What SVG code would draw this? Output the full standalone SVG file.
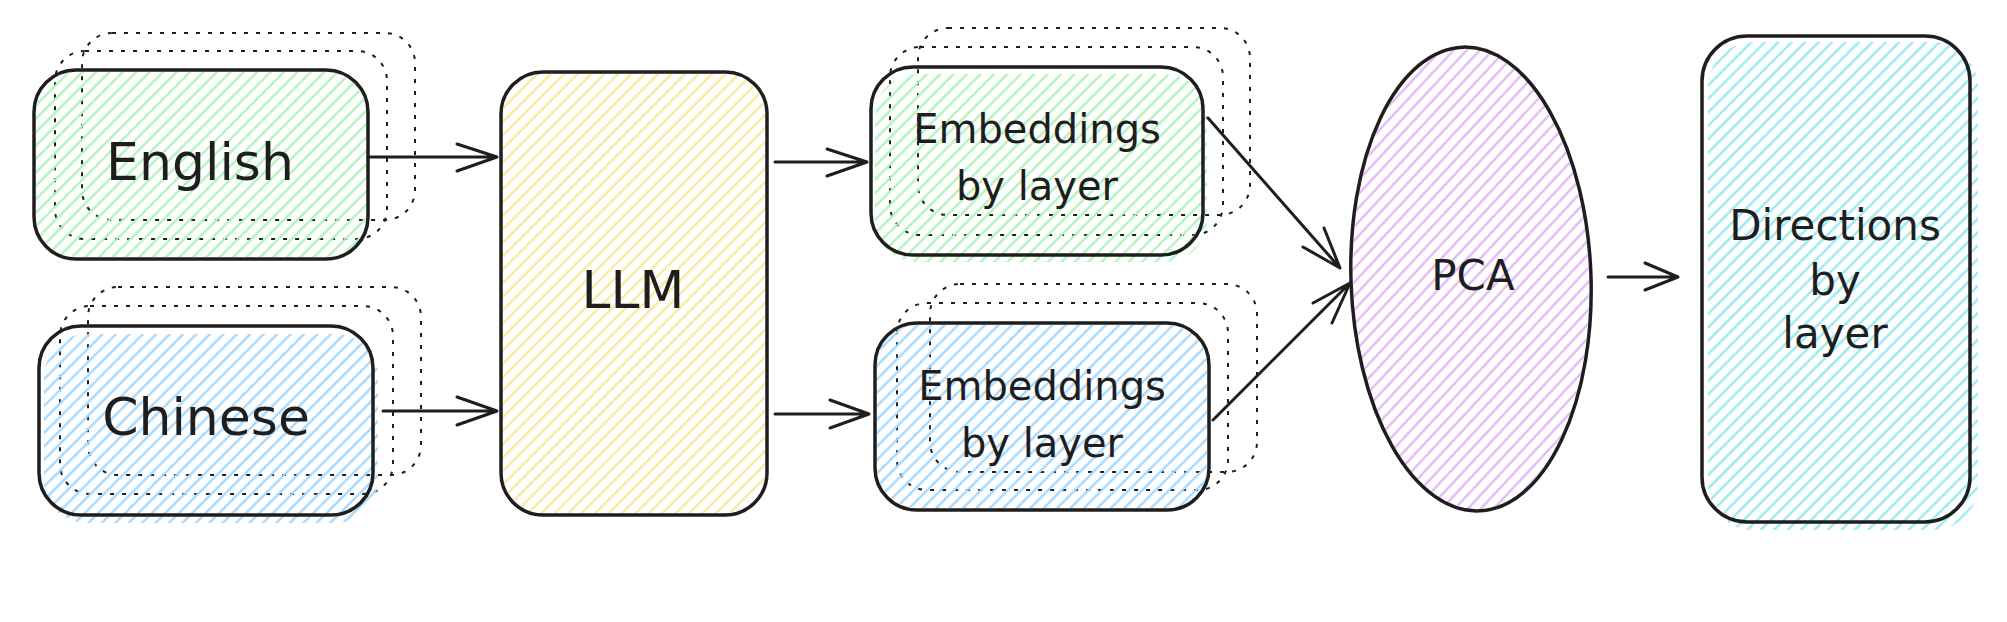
<svg xmlns="http://www.w3.org/2000/svg" width="2007" height="622" viewBox="0 0 2007 622">
<style>
.box{fill:none;stroke:#1e1e1e;stroke-width:3.5}
.dot{fill:none;stroke:#1e1e1e;stroke-width:2;stroke-dasharray:4 8}
.lbl{font-family:"DejaVu Sans","Liberation Sans",sans-serif;fill:#1e1e1e;text-anchor:middle}
.big{font-size:52px}
.sm{font-size:40px}
.md{font-size:42px}
.arr{fill:none;stroke:#1e1e1e;stroke-width:3;stroke-linecap:round;stroke-linejoin:round}
</style>
<defs>
<pattern id="hg" patternUnits="userSpaceOnUse" width="9.5" height="10" patternTransform="rotate(45)"><line x1="4.75" y1="0" x2="4.75" y2="10" stroke="#b2f2bb" stroke-width="2.4"/></pattern>
<pattern id="hb" patternUnits="userSpaceOnUse" width="9.5" height="10" patternTransform="rotate(45)"><line x1="4.75" y1="0" x2="4.75" y2="10" stroke="#a5d8ff" stroke-width="2.4"/></pattern>
<pattern id="hy" patternUnits="userSpaceOnUse" width="9.5" height="10" patternTransform="rotate(45)"><line x1="4.75" y1="0" x2="4.75" y2="10" stroke="#fbe99a" stroke-width="2.4"/></pattern>
<pattern id="hp" patternUnits="userSpaceOnUse" width="9.5" height="10" patternTransform="rotate(45)"><line x1="4.75" y1="0" x2="4.75" y2="10" stroke="#e3b8f5" stroke-width="2.4"/></pattern>
<pattern id="hc" patternUnits="userSpaceOnUse" width="9.5" height="10" patternTransform="rotate(45)"><line x1="4.75" y1="0" x2="4.75" y2="10" stroke="#99e9f2" stroke-width="2.4"/></pattern>
</defs>

<g id="english">
<rect x="82" y="33" width="333" height="187" rx="30" class="dot"/>
<rect x="55" y="51" width="332" height="188" rx="30" class="dot"/>
<rect x="36" y="72" width="330" height="185" rx="40" fill="url(#hg)"/>
<rect x="34" y="70" width="334" height="189" rx="42" class="box"/>
<text x="200" y="180" class="lbl big">English</text>
</g>

<g id="chinese">
<rect x="88" y="287" width="333" height="188" rx="30" class="dot"/>
<rect x="60" y="306" width="333" height="188" rx="30" class="dot"/>
<rect x="44" y="334" width="334" height="189" rx="42" fill="url(#hb)"/>
<rect x="39" y="326" width="334" height="189" rx="42" class="box"/>
<text x="206" y="435" class="lbl big">Chinese</text>
</g>

<g id="llm">
<rect x="503" y="74" width="262" height="439" rx="40" fill="url(#hy)"/>
<rect x="501" y="72" width="266" height="443" rx="42" class="box"/>
<text x="633" y="308" class="lbl big">LLM</text>
</g>

<g id="emb-en">
<rect x="918" y="28" width="332" height="187" rx="30" class="dot"/>
<rect x="890" y="47" width="333" height="188" rx="30" class="dot"/>
<rect x="875" y="74" width="332" height="188" rx="42" fill="url(#hg)"/>
<rect x="871" y="67" width="332" height="188" rx="42" class="box"/>
<text x="1037" y="143" class="lbl sm">Embeddings</text>
<text x="1037" y="200" class="lbl sm">by layer</text>
</g>

<g id="emb-zh">
<rect x="930" y="284" width="327" height="188" rx="30" class="dot"/>
<rect x="897" y="303" width="331" height="187" rx="30" class="dot"/>
<rect x="877" y="325" width="330" height="183" rx="40" fill="url(#hb)"/>
<rect x="875" y="323" width="334" height="187" rx="42" class="box"/>
<text x="1042" y="400" class="lbl sm">Embeddings</text>
<text x="1042" y="457" class="lbl sm">by layer</text>
</g>

<g id="pca">
<ellipse cx="1471" cy="279" rx="118" ry="230" fill="url(#hp)" transform="rotate(-2 1471 279)"/>
<ellipse cx="1471" cy="279" rx="120" ry="232" class="box" transform="rotate(-2 1471 279)"/>
<text x="1473" y="290" class="lbl md">PCA</text>
</g>

<g id="directions">
<rect x="1708" y="42" width="270" height="488" rx="45" fill="url(#hc)"/>
<rect x="1702" y="36" width="268" height="486" rx="45" class="box"/>
<text x="1835" y="240" class="lbl md">Directions</text>
<text x="1835" y="295" class="lbl md">by</text>
<text x="1835" y="348" class="lbl md">layer</text>
</g>

<g id="connectors">
<path class="arr" d="M368,157 L497,157 M457,144 L497,157 L457,171"/>
<path class="arr" d="M383,411 L497,411 M457,397 L497,411 L457,425"/>
<path class="arr" d="M775,162 L867,162 M827,149 L867,162 L827,176"/>
<path class="arr" d="M775,414 L869,414 M830,400 L869,414 L830,428"/>
<path class="arr" d="M1208,118 L1340,268 M1303,247 L1340,268 L1324,228"/>
<path class="arr" d="M1213,420 L1350,283 M1313,303 L1350,283 L1332,323"/>
<path class="arr" d="M1608,277 L1678,277 M1645,263 L1678,277 L1645,290"/>
</g>
</svg>
